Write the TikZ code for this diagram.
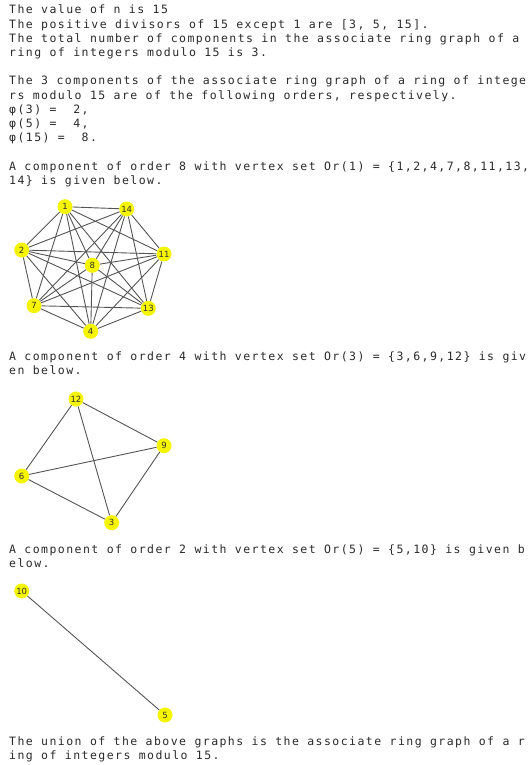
\documentclass[tikz,border=0pt]{standalone}
\usepackage{fontspec}
\setmonofont[LetterSpace=12.6]{DejaVu Sans Mono}
\newfontfamily\lblfont{DejaVu Sans}
\definecolor{txt}{HTML}{2A2A2A}
\definecolor{vfill}{HTML}{F5F500}
\definecolor{edgec}{HTML}{555555}
\tikzset{
  line/.style={anchor=base west, inner sep=0pt, font=\ttfamily\fontsize{11.5}{14.2}\selectfont, text=txt},
  vert/.style={circle, fill=vfill, inner sep=0pt, minimum size=15pt, font=\lblfont\fontsize{8.5}{9}\selectfont, text=black!80},
  edge/.style={draw=edgec, line width=0.9pt}
}
\begin{document}
\begin{tikzpicture}[x=1pt,y=-1pt]
\useasboundingbox[fill=white] (0,0) rectangle (529,765);
% text
\node[line] (t1) at (9,14) {The value of n is 15};
\node[line] (t2) at (9,28.2) {The positive divisors of 15 except 1 are [3, 5, 15].};
\node[line] (t3) at (9,42.4) {The total number of components in the associate ring graph of a};
\node[line] (t4) at (9,56.6) {ring of integers modulo 15 is 3.};
\node[line] (t5) at (9,85) {The 3 components of the associate ring graph of a ring of intege};
\node[line] (t6) at (9,99.2) {rs modulo 15 are of the following orders, respectively.};
\node[line] (t7) at (9,113.4) {φ(3) = ~2,};
\node[line] (t8) at (9,127.6) {φ(5) = ~4,};
\node[line] (t9) at (9,141.8) {φ(15) = ~8.};
\node[line] (t10) at (9,170.2) {A component of order 8 with vertex set Or(1) = \{1,2,4,7,8,11,13,};
\node[line] (t11) at (9,184.4) {14\} is given below.};
\node[line] (t12) at (9,360.6) {A component of order 4 with vertex set Or(3) = \{3,6,9,12\} is giv};
\node[line] (t13) at (9,374.8) {en below.};
\node[line] (t14) at (9,553.2) {A component of order 2 with vertex set Or(5) = \{5,10\} is given b};
\node[line] (t15) at (9,567.4) {elow.};
\node[line] (t16) at (9,745.6) {The union of the above graphs is the associate ring graph of a r};
\node[line] (t17) at (9,759.8) {ing of integers modulo 15.};
% graph of order 8
\node[vert] (v1) at (65,206.7) {1};
\node[vert] (v14) at (126.7,209) {14};
\node[vert] (v2) at (21.7,250) {2};
\node[vert] (v11) at (164,254) {11};
\node[vert] (v8) at (92.3,265.3) {8};
\node[vert] (v7) at (34,305.7) {7};
\node[vert] (v13) at (148.3,308.3) {13};
\node[vert] (v4) at (90.7,331.3) {4};
\foreach \a/\b in {1/14,1/2,1/11,1/8,1/7,1/13,1/4,
                   14/2,14/11,14/8,14/7,14/13,14/4,
                   2/11,2/8,2/7,2/13,2/4,
                   11/8,11/7,11/13,11/4,
                   8/7,8/13,8/4,
                   7/13,7/4,
                   13/4}
  \draw[edge] (v\a) -- (v\b);
% graph of order 4
\node[vert] (v12) at (76,399) {12};
\node[vert] (v9) at (164,445.7) {9};
\node[vert] (v6) at (21.7,476) {6};
\node[vert] (v3) at (111.7,522.7) {3};
\foreach \a/\b in {12/9,12/6,12/3,9/6,9/3,6/3}
  \draw[edge] (v\a) -- (v\b);
% graph of order 2
\node[vert] (v10) at (21.7,591) {10};
\node[vert] (v5) at (165,715) {5};
\draw[edge] (v10) -- (v5);
\end{tikzpicture}
\end{document}
